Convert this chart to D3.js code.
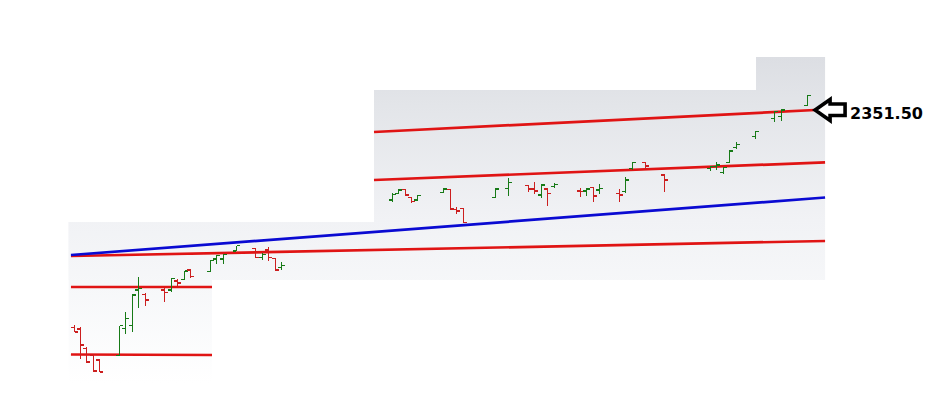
<!DOCTYPE html>
<html><head><meta charset="utf-8">
<script src="https://cdn.jsdelivr.net/npm/d3@7"></script>
<style>html,body{margin:0;padding:0;background:#fff;}svg{display:block;}</style>
</head><body>
<svg id="chart" width="928" height="409"></svg>
<script>
// ---- data ----
const day   = [0,1,2,3,4,7,8,9,10,11,14,15,16,17,18,21,22,23,25,28,29,30,31,32,
               49,50,51,52,53,57,58,59,60,65,67,70,71,72,73,74,78,79,80,81,84,85,86,88,91,
               98,99,100,101,102,105,108,109,113];
const open  = [2133.8,2132.5,2113.2,2105.8,2101.5,2105.8,2133.2,2135.8,2171.5,2167.2,2171.5,2171.5,2180.5,2182.2,2191.5,2189.8,2202.5,2202.5,2210.5,2213.2,2203.8,2211.5,2203.2,2194.2,
               2261.5,2268.2,2271.8,2263.8,2261.5,2268.8,2272.2,2252.2,2253.2,2263.8,2273.2,2275.8,2272.5,2266.5,2272.5,2274.8,2270.5,2270.5,2273.8,2271.5,2268.2,2269.8,2293.2,2299.2,2286.5,
               2293.2,2294.8,2289.2,2299.2,2313.8,2324.8,2343.2,2344.8,2355.8];
const high  = [2136.5,2134.8,2114.8,2107.5,2102.5,2135.8,2149.2,2167.2,2184.8,2168.2,2173.2,2183.2,2182.2,2190.8,2192.2,2201.5,2206.5,2207.2,2215.8,2213.2,2208.2,2214.8,2203.8,2199.8,
               2268.2,2272.5,2272.5,2264.8,2266.5,2273.8,2272.5,2254.8,2253.8,2273.2,2283.2,2276.5,2279.8,2277.2,2273.2,2278.2,2273.2,2273.2,2274.8,2277.2,2272.5,2284.8,2299.8,2299.8,2287.2,
               2295.8,2299.8,2294.8,2311.5,2319.2,2330.5,2350.5,2352.5,2366.5];
const low   = [2129.2,2102.5,2098.2,2089.8,2089.2,2105.8,2127.2,2129.2,2153.8,2155.5,2159.2,2169.8,2175.5,2181.2,2183.8,2189.2,2197.2,2197.2,2210.5,2203.2,2201.5,2200.5,2190.5,2191.5,
               2259.8,2267.2,2265.8,2258.2,2260.5,2268.2,2251.5,2247.2,2238.2,2263.2,2265.8,2269.8,2267.2,2263.8,2255.8,2273.2,2264.8,2265.5,2259.8,2267.2,2259.2,2268.2,2291.5,2292.5,2269.8,
               2290.5,2291.5,2287.2,2298.2,2312.5,2322.5,2339.8,2340.5,2355.8];
const close = [2129.5,2116.5,2099.5,2090.5,2089.5,2135.8,2143.2,2166.5,2173.2,2161.5,2169.2,2183.2,2178.5,2190.5,2184.8,2200.8,2205.8,2207.2,2215.8,2203.8,2207.2,2203.8,2191.5,2195.8,
               2267.2,2271.5,2266.5,2259.8,2265.8,2272.5,2252.5,2250.5,2239.2,2272.5,2279.2,2272.5,2270.5,2276.5,2268.2,2277.2,2269.8,2272.5,2265.5,2273.2,2266.5,2281.5,2299.2,2295.5,2281.5,
               2294.8,2296.5,2293.8,2310.5,2317.2,2329.8,2349.8,2351.5,2365.8];

// channel lines: [startDay, startPrice, endDay, endPrice]
const channelStartDay = [-0.39, -0.39, -0.39, -0.39, 46.3, 46.3];
const channelStartPx  = [2174.5, 2107.0, 2205.5, 2206.5, 2281.5, 2329.5];
const channelEndDay   = [21.34, 21.34, 115.8, 115.8, 115.8, 115.8];
const channelEndPx    = [2174.5, 2106.5, 2220.5, 2264.0, 2299.2, 2352.0];
const channelKind     = ["band","band","band","mid","band","band"];

// shaded zones: [fromDay, toDay, topPrice, bottomPrice]
const zoneFrom   = [-0.75, -0.75, 46.3, 105.16];
const zoneTo     = [21.34, 115.8, 115.8, 115.8];
const zoneTop    = [2239.5, 2239.5, 2371.5, 2404.5];
const zoneBottom = [2078.5, 2181.5, 2239.5, 2371.5];

const lastPrice = 2351.50;
const lastLabel = "2351.50";

// ---- drawing ----
const svg = d3.select("#chart");
const x = d3.scaleLinear().domain([0, 113]).range([73.5, 806.9]);
const y = d3.scaleLinear().domain([2000, 2400]).range([461.5, 61.5]);

const defs = svg.append("defs");
const grad = defs.append("linearGradient").attr("id","bg")
  .attr("gradientUnits","userSpaceOnUse").attr("x1",0).attr("x2",0)
  .attr("y1", y(2404.5)).attr("y2", y(2078.5));
grad.append("stop").attr("offset","0%").attr("stop-color","#dcdee3");
grad.append("stop").attr("offset","15%").attr("stop-color","#e3e5e9");
grad.append("stop").attr("offset","50%").attr("stop-color","#f1f2f5");
grad.append("stop").attr("offset","70%").attr("stop-color","#f6f7f9");
grad.append("stop").attr("offset","100%").attr("stop-color","#ffffff");

svg.append("g").selectAll("rect").data(zoneFrom).join("rect")
  .attr("x", (d,i) => x(zoneFrom[i]))
  .attr("width", (d,i) => x(zoneTo[i]) - x(zoneFrom[i]))
  .attr("y", (d,i) => y(zoneTop[i]))
  .attr("height", (d,i) => y(zoneBottom[i]) - y(zoneTop[i]))
  .attr("fill","url(#bg)");

svg.append("g").selectAll("line").data(channelKind).join("line")
  .attr("x1",(d,i)=>x(channelStartDay[i])).attr("y1",(d,i)=>y(channelStartPx[i]))
  .attr("x2",(d,i)=>x(channelEndDay[i])).attr("y2",(d,i)=>y(channelEndPx[i]))
  .attr("stroke", d => d === "mid" ? "#0a0ad2" : "#e01414")
  .attr("stroke-width", 2.7);

const bars = day.map((d,i)=>({d, o:open[i], h:high[i], l:low[i], c:close[i]}));
const g = svg.append("g").attr("shape-rendering","crispEdges");
const bg = g.selectAll("g").data(bars).join("g")
  .attr("stroke", b => b.c >= b.o ? "#177a17" : "#cc1f1f");
bg.append("line").attr("x1",b=>Math.round(x(b.d))+0.5).attr("x2",b=>Math.round(x(b.d))+0.5)
  .attr("y1",b=>y(b.h)).attr("y2",b=>y(b.l)).attr("stroke-width",1.7);
bg.append("line").attr("x1",b=>Math.round(x(b.d))-3).attr("x2",b=>Math.round(x(b.d)))
  .attr("y1",b=>y(b.o)).attr("y2",b=>y(b.o)).attr("stroke-width",1.4);
bg.append("line").attr("x1",b=>Math.round(x(b.d))+1).attr("x2",b=>Math.round(x(b.d))+4)
  .attr("y1",b=>y(b.c)).attr("y2",b=>y(b.c)).attr("stroke-width",1.4);

// last price arrow + label
const ay = y(lastPrice);
const tipX = x(115.8) - 10;
const arrow = [[0,0],[15,-10.5],[15,-6],[30,-6],[30,5.5],[15,5.5],[15,10.5]]
  .map(p => [tipX + p[0], ay + p[1]]);
svg.append("path").attr("d", d3.line()(arrow) + "Z")
  .attr("fill","#fff").attr("stroke","#000").attr("stroke-width",3.6)
  .attr("stroke-linejoin","miter");
svg.append("text").attr("x", tipX + 35).attr("y", ay + 4.5)
  .attr("dominant-baseline","middle")
  .attr("font-family","DejaVu Sans, sans-serif").attr("font-weight","bold")
  .attr("font-size", 16).attr("fill","#000").text(lastLabel);
</script>
</body></html>
